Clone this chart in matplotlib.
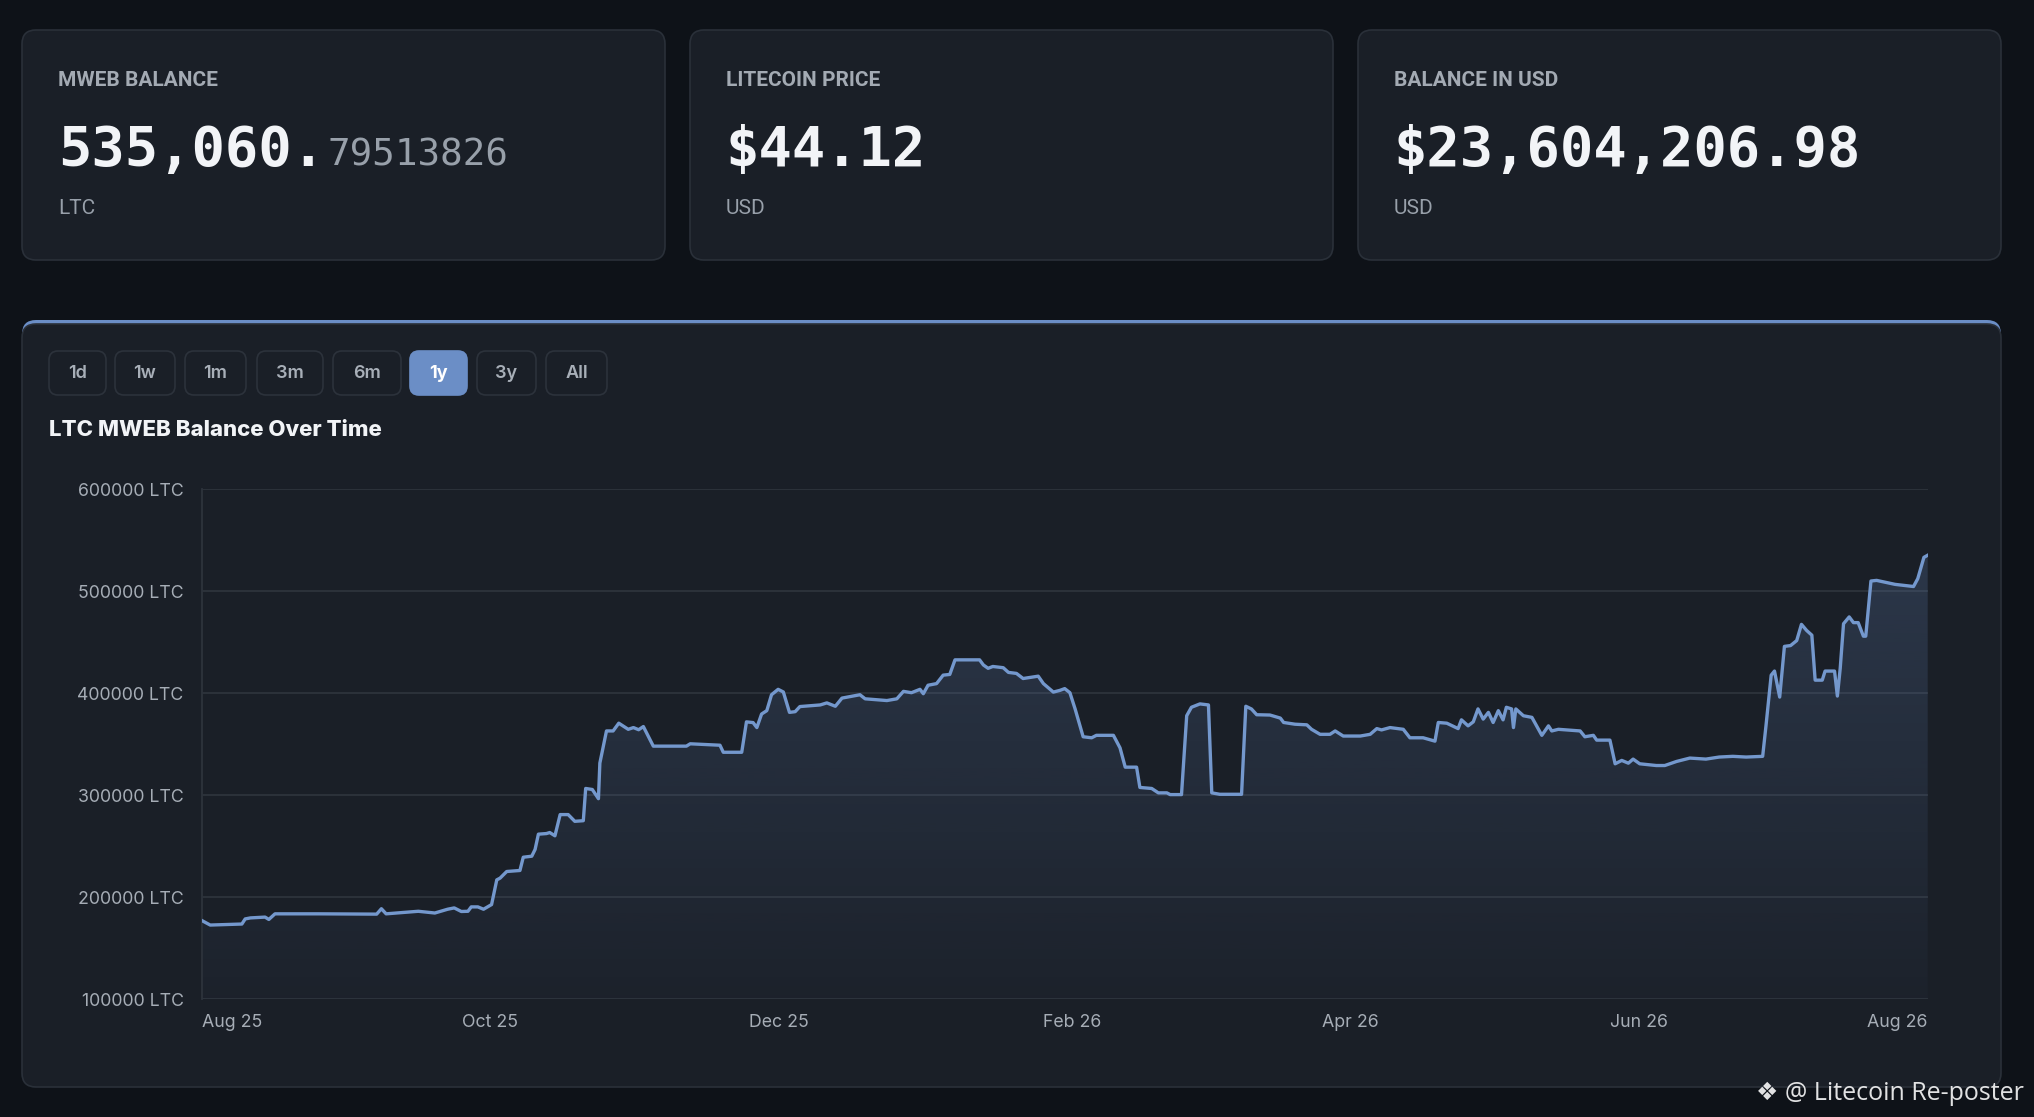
import numpy as np
import pandas as pd
import matplotlib
matplotlib.use('Agg')
import matplotlib.pyplot as plt
from matplotlib.patches import FancyBboxPatch
from matplotlib.ticker import FuncFormatter

# figure size in pixels
W, H = 2034, 1117

# top stat cards
card_titles = ['MWEB BALANCE', 'LITECOIN PRICE', 'BALANCE IN USD']
card_values = ['535,060.', '$44.12', '$23,604,206.98']
card_decimals = ['79513826', '', '']
card_units = ['LTC', 'USD', 'USD']

# range buttons
ranges = ['1d', '1w', '1m', '3m', '6m', '1y', '3y', 'All']
active_range = '1y'

chart_title = 'LTC MWEB Balance Over Time'

# series: days since start of window, balance in LTC
start_date = '2025-08-26'
days = [0, 1.8, 8.5, 9.2, 10.3, 13.4, 14.2, 15.5, 24.7, 37.0,
        38.0, 39.0, 45.8, 49.3, 52.0, 53.4, 54.9, 56.3, 57.0, 58.4,
        59.6, 61.3, 62.4, 63.1, 64.5, 67.3, 68.0, 69.8, 70.5, 71.2,
        72.9, 73.6, 74.7, 75.8, 77.5, 78.9, 80.7, 81.2, 82.6, 83.9,
        84.2, 85.6, 87.0, 88.2, 90.2, 91.3, 92.4, 93.4, 95.5, 102.5,
        103.3, 109.6, 110.3, 114.2, 115.2, 116.6, 117.4, 118.4, 119.5, 120.5,
        121.9, 123.0, 124.3, 125.5, 126.5, 130.8, 132.2, 134.0, 135.4, 139.2,
        140.3, 144.9, 147.0, 148.4, 150.1, 151.9, 152.6, 153.6, 155.4, 156.8,
        158.2, 159.3, 164.5, 165.3, 166.3, 167.3, 169.5, 170.6, 172.3, 173.7,
        176.9, 178.0, 180.1, 181.5, 182.5, 183.6, 184.7, 186.4, 188.2, 189.2,
        192.8, 194.2, 195.3, 197.7, 198.4, 200.9, 202.3, 204.1, 204.8, 207.2,
        208.3, 209.3, 211.1, 212.9, 213.6, 215.3, 219.9, 220.8, 222.0, 223.1,
        225.9, 228.1, 228.8, 231.2, 233.7, 234.7, 236.5, 238.6, 239.7, 241.4,
        245.0, 247.1, 248.5, 249.5, 251.3, 254.1, 255.5, 258.3, 260.8, 261.5,
        263.3, 265.7, 266.4, 267.8, 268.9, 269.9, 271.0, 272.1, 273.1, 274.2,
        275.2, 275.9, 277.0, 277.4, 277.9, 279.5, 281.3, 283.4, 284.8, 285.5,
        286.9, 291.5, 292.5, 294.3, 295.0, 297.8, 298.9, 300.3, 301.7, 302.7,
        304.1, 307.6, 309.4, 311.9, 314.7, 318.1, 320.9, 323.8, 326.6, 330.1,
        330.8, 331.9, 332.6, 333.7, 334.7, 336.0, 337.3, 338.3, 339.4, 340.5,
        341.2, 342.7, 343.3, 345.3, 345.9, 346.5, 347.2, 348.4, 349.3, 350.3,
        351.4, 351.9, 353.0, 354.2, 358.1, 360.2, 362.0, 362.9, 364.2, 365.0]
balance = [177000, 172500, 173500, 178500, 179500, 180300, 178000, 183500, 183500, 183200,
           188500, 183500, 186000, 184300, 188000, 189300, 185800, 186000, 190300, 190300,
           188000, 192600, 216800, 218500, 225000, 226000, 239000, 240000, 246600, 261600,
           262200, 263200, 260000, 280800, 280800, 274200, 274800, 306400, 305400, 296400,
           331300, 362800, 362800, 370400, 364400, 366100, 364000, 367100, 347900, 347900,
           350200, 348800, 341900, 341900, 371700, 371000, 366100, 379400, 382700, 398300,
           403600, 401000, 381000, 381700, 386700, 388300, 390300, 387000, 395000, 398300,
           394300, 392600, 394300, 401600, 400300, 403600, 399300, 407600, 409200, 417500,
           418200, 432500, 432500, 427500, 424200, 426000, 424800, 420200, 419200, 414200,
           416500, 409200, 400900, 402600, 404300, 400300, 384400, 357100, 356100, 358500,
           358500, 346200, 327300, 327300, 307400, 306400, 302100, 302100, 300400, 300400,
           377700, 386000, 389300, 388300, 302100, 300700, 300700, 387000, 384300, 378700,
           378400, 375400, 371100, 369400, 368800, 364400, 359500, 359500, 362800, 357800,
           357800, 359500, 365100, 363800, 366100, 364400, 356100, 356100, 352800, 371100,
           370400, 365100, 373700, 367800, 371700, 384400, 374400, 381000, 371100, 382700,
           373700, 386000, 384400, 366100, 384400, 377700, 376100, 358500, 367800, 362800,
           364400, 362800, 357100, 358500, 353800, 353800, 330600, 333900, 331200, 335200,
           330600, 328900, 328900, 332900, 336200, 335200, 337200, 337900, 337200, 337900,
           367800, 417500, 421500, 396000, 445700, 446500, 451400, 467300, 461300, 456700,
           412600, 412600, 421500, 421500, 397000, 424200, 467900, 474600, 469000, 469000,
           455700, 455700, 509800, 510400, 506500, 505400, 504400, 512100, 533000, 535060]

tick_dates = ['2025-08-26', '2025-10-26', '2025-12-26', '2026-02-26',
              '2026-04-26', '2026-06-26', '2026-08-26']
tick_labels = ['Aug 25', 'Oct 25', 'Dec 25', 'Feb 26', 'Apr 26', 'Jun 26', 'Aug 26']
y_ticks = [100000, 200000, 300000, 400000, 500000, 600000]

# colours
page_bg = '#0e1218'
card_bg = '#1a1f27'
card_edge = '#2a3039'
accent = '#6b8ec6'
line_col = '#7498cd'
grid_col = '#2d333c'
muted = '#98a0aa'
white = '#f2f4f7'

fig = plt.figure(figsize=(W / 100, H / 100), dpi=100, facecolor=page_bg)

# background layer in pixel coordinates
bg = fig.add_axes([0, 0, 1, 1])
bg.set_xlim(0, W)
bg.set_ylim(H, 0)
bg.axis('off')
bg.set_facecolor(page_bg)

card_x = [22, 690, 1358]
for cx, title, val, dec, unit in zip(card_x, card_titles, card_values, card_decimals, card_units):
    bg.add_patch(FancyBboxPatch((cx, 30), 643, 230, boxstyle='round,pad=0,rounding_size=14',
                                fc=card_bg, ec=card_edge, lw=1.2))
    bg.text(cx + 36, 81, title, color='#a3aab3', fontsize=15, fontweight='bold',
            family='Roboto', va='center', ha='left')
    bg.text(cx + 36, 166, val, color=white, fontsize=40, fontweight='bold',
            family='DejaVu Sans Mono', va='baseline', ha='left')
    if dec:
        bg.text(cx + 305, 166, dec, color=muted, fontsize=27, family='DejaVu Sans Mono',
                va='baseline', ha='left')
    bg.text(cx + 36, 208, unit, color=muted, fontsize=15, family='Roboto',
            va='center', ha='left')

# chart panel with blue top edge
bg.add_patch(FancyBboxPatch((22, 320), 1979, 767, boxstyle='round,pad=0,rounding_size=14',
                            fc=accent, ec='none'))
bg.add_patch(FancyBboxPatch((22, 324), 1979, 763, boxstyle='round,pad=0,rounding_size=14',
                            fc=card_bg, ec=card_edge, lw=1.2))

btn_x = [(49, 106), (115, 175), (185, 246), (257, 323), (333, 401), (410, 467), (477, 536), (546, 607)]
for (x0, x1), r in zip(btn_x, ranges):
    on = r == active_range
    bg.add_patch(FancyBboxPatch((x0, 351), x1 - x0, 44, boxstyle='round,pad=0,rounding_size=9',
                                fc=accent if on else card_bg, ec=accent if on else '#2c323b', lw=1.2))
    bg.text((x0 + x1) / 2, 373, r, color='white' if on else '#a8afb8', fontsize=13,
            fontweight='bold' if on else 'semibold', family='Inter', ha='center', va='center')

bg.text(49, 430, chart_title, color=white, fontsize=16, fontweight='heavy', family='Inter',
        ha='left', va='center')

bg.text(2024, 1093, '\u2756 @ Litecoin Re-poster', color='white', alpha=0.88, fontsize=18,
        family=['Open Sans', 'DejaVu Sans'], ha='right', va='center')

# line chart
ax = fig.add_axes([201.7 / W, 1 - 999 / H, 1726 / W, 510 / H])
ax.set_facecolor('none')

x = np.array(days)
y = np.array(balance)
ax.set_xlim(0, 365)
ax.set_ylim(100000, 600000)

# gradient fill under the line
poly = ax.fill_between(x, y, 100000, color='none', lw=0)
grad = np.linspace(0.03, 0.25, 256).reshape(-1, 1)
rgba = np.zeros((256, 1, 4))
rgba[..., 0] = 0x6a / 255
rgba[..., 1] = 0x8c / 255
rgba[..., 2] = 0xc4 / 255
rgba[..., 3] = grad
img = ax.imshow(rgba, extent=[0, 365, 100000, 600000], origin='lower', aspect='auto', zorder=1)
img.set_clip_path(poly.get_paths()[0], transform=ax.transData)

ax.plot(x, y, color=line_col, lw=2.4, zorder=3, solid_joinstyle='round')

ax.set_yticks(y_ticks)
ax.yaxis.set_major_formatter(FuncFormatter(lambda v, p: '%d LTC' % v))
ax.grid(axis='y', color=grid_col, lw=1.3)
ax.set_axisbelow(True)

t0 = pd.Timestamp(start_date)
tick_pos = [(pd.Timestamp(d) - t0).days for d in tick_dates]
ax.set_xticks(tick_pos)
ax.set_xticklabels(tick_labels)
labs = ax.get_xticklabels()
labs[0].set_ha('left')
labs[-1].set_ha('right')

ax.tick_params(axis='both', length=0, colors='#a6adb6', labelsize=12.8)
ax.tick_params(axis='y', pad=13)
ax.tick_params(axis='x', pad=11)
for lab in ax.get_xticklabels() + ax.get_yticklabels():
    lab.set_family('Inter')

for s in ['top', 'right', 'bottom']:
    ax.spines[s].set_visible(False)
ax.spines['left'].set_color(grid_col)
ax.spines['left'].set_linewidth(1.3)

fig.savefig('out.png', dpi=100, facecolor=page_bg)
